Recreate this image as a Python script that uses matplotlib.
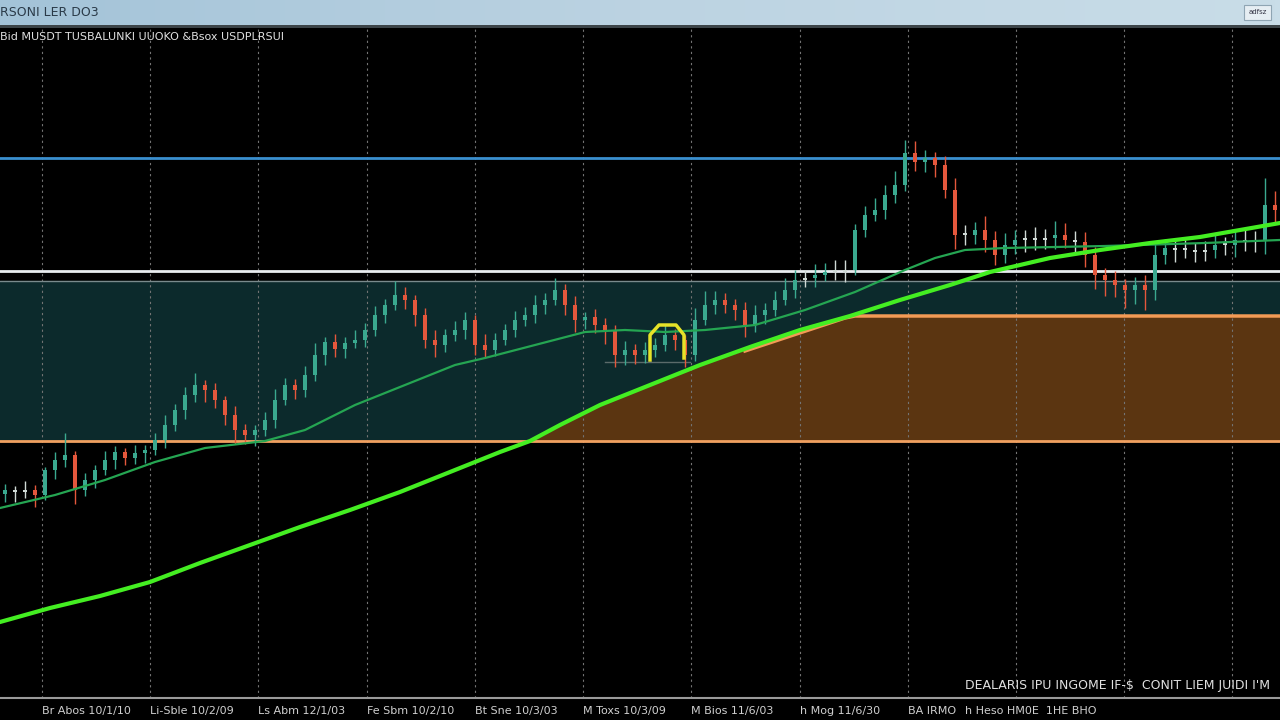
import matplotlib.pyplot as plt
from matplotlib.patches import Rectangle
from matplotlib.colors import LinearSegmentedColormap
import numpy as np

# price axis: plain chart units (no scale printed on the chart)
closes = [208, 206, 208, 203, 228, 238, 243, 208, 218, 228,
          238, 246, 240, 245, 248, 258, 273, 288, 303, 313,
          308, 298, 283, 268, 263, 268, 278, 298, 313, 308,
          323, 343, 356, 349, 355, 358, 368, 383, 393, 403,
          398, 383, 358, 353, 363, 368, 378, 353, 348, 358,
          368, 378, 383, 393, 398, 408, 393, 378, 381, 373,
          368, 343, 348, 343, 348, 353, 363, 358, 343, 378,
          393, 398, 393, 388, 373, 383, 388, 398, 408, 418,
          420, 423, 426, 426, 428, 468, 483, 488, 503, 513,
          545, 536, 540, 533, 508, 463, 463, 468, 458, 443,
          453, 458, 460, 458, 460, 463, 458, 456, 443, 423,
          418, 413, 408, 413, 408, 443, 450, 448, 448, 446,
          448, 453, 453, 458, 456, 458, 493, 488]
wick_up = [6, 4, 9, 5, 3, 8, 22, 4, 7, 5,
           9, 6, 4, 8, 5, 7, 10, 6, 8, 12,
           5, 7, 4, 9, 6, 5, 8, 11, 7, 6,
           9, 12, 5, 8, 6, 10, 7, 9, 6, 14,
           8, 5, 7, 10, 6, 9, 8, 5, 11, 7,
           6, 9, 8, 10, 7, 12, 6, 9, 5, 8,
           7, 5, 9, 6, 8, 7, 10, 6, 5, 12,
           14, 9, 7, 6, 8, 10, 7, 9, 12, 10,
           8, 11, 9, 12, 10, 6, 9, 12, 10, 14,
           13, 12, 8, 6, 9, 12, 10, 8, 14, 9,
           12, 10, 8, 11, 9, 14, 12, 9, 10, 8,
           7, 9, 6, 8, 10, 12, 9, 8, 10, 7,
           9, 11, 8, 10, 12, 9, 27, 14]
wick_dn = [8, 10, 6, 12, 5, 9, 7, 14, 6, 8,
           5, 9, 7, 6, 10, 5, 8, 6, 9, 7,
           12, 8, 10, 14, 9, 11, 6, 8, 5, 9,
           7, 6, 10, 8, 9, 5, 7, 6, 8, 5,
           9, 11, 8, 12, 7, 6, 9, 10, 8, 6,
           5, 7, 6, 8, 9, 5, 10, 12, 9, 8,
           14, 12, 10, 9, 8, 7, 6, 10, 12, 6,
           5, 9, 8, 10, 12, 7, 9, 6, 5, 8,
           7, 9, 6, 8, 10, 5, 7, 6, 9, 8,
           6, 9, 10, 12, 8, 14, 10, 9, 12, 10,
           8, 9, 12, 10, 9, 11, 8, 10, 12, 14,
           16, 12, 18, 14, 20, 10, 9, 12, 8, 10,
           9, 8, 10, 12, 9, 10, 14, 12]

# moving averages (bar index, level)
ema_x = [-0.5, 4.5, 9.5, 14.5, 19.5, 24.5, 29.5, 34.5, 39.5, 44.5, 49.5, 52.5, 55.5,
         59.5, 64.5, 69.5, 74.5, 79.5, 84.5, 89.5, 94.5, 98.5, 104.5, 109.5, 114.5, 119.5, 127.5]
ema_y = [76, 90, 102, 116, 135, 153, 171, 188, 206, 226, 246, 257, 273,
         293, 313, 333, 351, 368, 382, 398, 413, 426, 440, 448, 455, 461, 475]
ma_x = [-0.5, 5, 10, 15, 20, 26, 30, 35, 40, 45, 48, 53, 58, 62, 66, 70, 75, 80, 85, 90, 93, 96, 100, 110, 120, 127.5]
ma_y = [190, 203, 218, 236, 250, 257, 268, 293, 313, 333, 340, 353, 366, 368, 366, 368, 373, 388, 406, 428, 440, 448, 450, 452, 455, 458]

# zone / level lines
resistance = 540
range_top = 427
range_inner = 417
support = 257
zone_x = [52.5, 55.5, 59.5, 64.5, 69.5, 74, 84, 85, 127.5]
zone_y = [257, 273, 293, 313, 333, 347, 380, 382, 382]

date_pos = [3.7, 14.5, 25.3, 36.2, 47.0, 57.8, 68.6, 79.5, 90.3, 96.0]
date_labels = ['Br Abos 10/1/10', 'Li-Sble 10/2/09', 'Ls Abm 12/1/03', 'Fe Sbm 10/2/10',
               'Bt Sne 10/3/03', 'M Toxs 10/3/09', 'M Bios 11/6/03', 'h Mog 11/6/30',
               'BA IRMO', 'h Heso HM0E  1HE BHO']
grid_pos = [3.7, 14.5, 25.3, 36.2, 47.0, 57.8, 68.6, 79.5, 90.3, 101.1, 111.9, 122.7]

fig = plt.figure(figsize=(12.8, 7.2), dpi=100, facecolor='black')
ax = fig.add_axes([0, 22 / 720, 1, 670 / 720], facecolor='black')
ax.set_xlim(-0.5, 127.5)
ax.set_ylim(0, 670)

# range band and zone
ax.axhspan(support, range_inner, color='#0c2a2c', zorder=0)
ax.fill_between(zone_x, support, zone_y, color='#5b3511', zorder=1)

for g in grid_pos:
    ax.axvline(g, color='#747474', lw=0.8, ls=(0, (2, 3)), zorder=1)

ax.axhline(resistance, color='#3a8fcf', lw=2, zorder=2)
ax.axhline(range_top, color='#e8ecef', lw=2, zorder=2)
ax.axhline(range_inner, color='#7a8a8c', lw=1, zorder=2)
ax.axhline(support, color='#f0a060', lw=2, zorder=2)

# candles
opens = [closes[0] - 4] + closes[:-1]
for i, (o, c, wu, wd) in enumerate(zip(opens, closes, wick_up, wick_dn)):
    if abs(c - o) < 3:
        col = '#cfd9d5'
    elif c > o:
        col = '#3aa98f'
    else:
        col = '#e4573c'
    lo, hi = min(o, c), max(o, c)
    ax.vlines(i, lo - wd, hi + wu, color=col, lw=1, zorder=4)
    ax.bar(i, max(hi - lo, 2), bottom=lo, width=0.45, color=col, zorder=5)

ax.plot(ma_x, ma_y, color='#25a552', lw=1.6, zorder=6)
ax.plot(ema_x, ema_y, color='#44ee22', lw=3, zorder=7)
ax.plot(zone_x[5:], zone_y[5:], color='#f39a55', lw=2.5, zorder=6)

# yellow arch marker
ax.plot([64.5, 64.5, 65.4, 67.1, 67.9, 67.9], [338, 363, 373, 373, 363, 340],
        color='#e6e228', lw=2.5, zorder=8)
ax.plot([60, 68.5], [336, 336], color='#5b6b6a', lw=1, zorder=3)

ax.set_xticks(date_pos)
ax.set_xticklabels(date_labels, fontsize=8, color='#cfcfcf', ha='left')
ax.tick_params(axis='x', length=0, pad=6)
ax.set_yticks([])
for s in ['top', 'left', 'right']:
    ax.spines[s].set_visible(False)
ax.spines['bottom'].set_color('#9a9a9a')
ax.spines['bottom'].set_linewidth(1.5)

ax.text(0.754, 0.018, 'DEALARIS IPU INGOME IF-$  CONIT LIEM JUIDI I\'M',
        transform=ax.transAxes, fontsize=9, color='#e0e0e0', ha='left', va='center')

# window title bar
bar_ax = fig.add_axes([0, 695 / 720, 1, 25 / 720])
grad = np.linspace(0, 1, 256).reshape(1, -1)
bar_ax.imshow(grad, aspect='auto', extent=[0, 1, 0, 1],
              cmap=LinearSegmentedColormap.from_list('bar', ['#a3c3d8', '#bcd3e2', '#c9dde8']))
bar_ax.set_axis_off()
bar_ax.text(0.0, 0.5, 'RSONI LER DO3', fontsize=9, color='#2a3a48', va='center', ha='left',
            transform=bar_ax.transAxes)
bar_ax.add_patch(Rectangle((0.972, 0.2), 0.021, 0.6, facecolor='#e6eef3', edgecolor='#8fa5b3',
                           lw=0.8, transform=bar_ax.transAxes))
bar_ax.text(0.9825, 0.5, 'adfsz', fontsize=5, color='#334', ha='center', va='center',
            transform=bar_ax.transAxes)
fig.add_artist(Rectangle((0, 692 / 720), 1, 3 / 720, transform=fig.transFigure,
                         facecolor='#3c4448', edgecolor='none'))

fig.text(0.0, 683 / 720, 'Bid MUSDT TUSBALUNKI UUOKO &Bsox USDPLRSUI', fontsize=8,
         color='#e0e0e0', ha='left', va='center')

fig.savefig('out.png', dpi=100, facecolor='black')
